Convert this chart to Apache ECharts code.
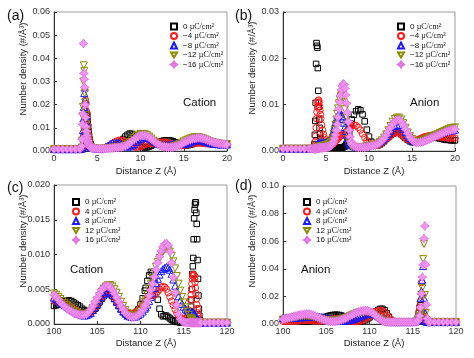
<!DOCTYPE html>
<html><head><meta charset="utf-8">
<script src="https://cdn.jsdelivr.net/npm/echarts@6/dist/echarts.min.js"></script>
<style>html,body{margin:0;padding:0;background:#fff}#c{width:474px;height:358px}</style>
</head><body><div id="c"></div>
<script>
// ---------- Panel (a): Cation, 0-20 A ----------
const A_X = [0,0.5,1,1.5,2,2.5,3,
 3.2,3.25,3.3,3.35,3.4,3.45,3.5,3.55,3.6,3.65,3.7,3.75,3.8,3.85,3.9,3.95,4,4.05,4.1,4.15,4.2,4.25,4.3,
 4.5,4.75,
 5,5.25,5.5,5.75, 6,6.25,6.5,6.75, 7,7.25,7.5,7.75, 8,8.25,8.5,8.75, 9,9.25,9.5,9.75,
 10,10.25,10.5,10.75, 11,11.25,11.5,11.75, 12,12.25,12.5,12.75, 13,13.25,13.5,13.75, 14,14.25,14.5,14.75,
 15,15.25,15.5,15.75, 16,16.25,16.5,16.75, 17,17.25,17.5,17.75, 18,18.25,18.5,18.75, 19,19.25,19.5,19.75,
 20];
const A_0 = [0.0008,0.0008,0.0008,0.0008,0.0008,0.0008,0.0008,
 0.0008,0.0008,0.001,0.0012,0.0015,0.002,0.003,0.0045,0.006,0.008,0.0105,0.014,0.016,0.0155,0.013,0.0105,0.0084,0.0066,0.005,0.004,0.0032,0.0026,0.0022,
 0.0016,0.0013,
 0.0011,0.001,0.001,0.001, 0.0011,0.0012,0.0014,0.0017, 0.0021,0.0027,0.0034,0.0042, 0.0052,0.0062,0.007,0.0075, 0.0074,0.0066,0.0052,0.0036,
 0.0024,0.0017,0.0015,0.0016, 0.0019,0.0023,0.0028,0.0033, 0.0037,0.004,0.0043,0.0045, 0.0046,0.0046,0.0045,0.0042, 0.0038,0.0034,0.003,0.0027,
 0.0025,0.0024,0.0025,0.0027, 0.003,0.0033,0.0036,0.0038, 0.0039,0.0039,0.0038,0.0037, 0.0036,0.0035,0.0034,0.0033, 0.0033,0.0032,0.0031,0.003,
 0.003];
const A_4 = [0.0008,0.0008,0.0008,0.0008,0.0008,0.0008,0.0008,
 0.0008,0.001,0.0015,0.0025,0.004,0.0068,0.01,0.0138,0.0183,0.022,0.0205,0.017,0.0159,0.0135,0.0112,0.009,0.0068,0.005,0.0038,0.003,0.0025,0.0021,0.0018,
 0.0014,0.0012,
 0.001,0.001,0.0011,0.0013, 0.0016,0.002,0.0026,0.0032, 0.0038,0.0043,0.0046,0.0047, 0.0045,0.004,0.0034,0.0028, 0.0022,0.0018,0.0016,0.0017,
 0.002,0.0024,0.0028,0.0031, 0.0033,0.0034,0.0034,0.0035, 0.0036,0.0037,0.0038,0.0038, 0.0037,0.0035,0.0032,0.0029, 0.0026,0.0024,0.0023,0.0023,
 0.0024,0.0026,0.0028,0.003, 0.0032,0.0033,0.0034,0.0034, 0.0034,0.0033,0.0032,0.0031, 0.003,0.003,0.0029,0.0029, 0.0028,0.0028,0.0027,0.0027,
 0.0026];
const A_8 = [0.0008,0.0008,0.0008,0.0008,0.0008,0.0008,0.0008,
 0.001,0.0015,0.0066,0.009,0.014,0.019,0.025,0.0275,0.022,0.0178,0.015,0.0124,0.01,0.008,0.0066,0.0052,0.0042,0.0034,0.0028,0.0024,0.0021,0.0018,0.0016,
 0.0013,0.0011,
 0.001,0.001,0.0011,0.0014, 0.0018,0.0024,0.003,0.0034, 0.0036,0.0036,0.0034,0.003, 0.0025,0.0021,0.0019,0.002, 0.0024,0.003,0.0038,0.0046,
 0.0053,0.0058,0.006,0.0059, 0.0055,0.005,0.0044,0.0038, 0.0033,0.0029,0.0027,0.0026, 0.0026,0.0027,0.0029,0.0031, 0.0032,0.0032,0.0031,0.003,
 0.003,0.0031,0.0034,0.0038, 0.0042,0.0045,0.0047,0.0047, 0.0046,0.0044,0.0041,0.0038, 0.0035,0.0033,0.0031,0.003, 0.0029,0.0028,0.0028,0.0028,
 0.0028];
const A_12 = [0.0008,0.0008,0.0008,0.0008,0.0008,0.0008,0.0008,
 0.0015,0.0045,0.015,0.019,0.03,0.037,0.0346,0.025,0.021,0.0155,0.0115,0.0085,0.0063,0.0048,0.0037,0.003,0.0025,0.0021,0.0018,0.0016,0.0015,0.0014,0.0013,
 0.0012,0.0011,
 0.001,0.001,0.001,0.001, 0.0011,0.0012,0.0013,0.0014, 0.0015,0.0016,0.0017,0.0018, 0.002,0.0024,0.003,0.0038, 0.0047,0.0056,0.0064,0.007,
 0.0073,0.0074,0.0072,0.0068, 0.0062,0.0054,0.0045,0.0036, 0.0028,0.0022,0.0019,0.0017, 0.0016,0.0016,0.0017,0.0019, 0.0022,0.0026,0.0031,0.0036,
 0.0041,0.0046,0.005,0.0054, 0.0057,0.0059,0.006,0.0059, 0.0057,0.0054,0.005,0.0046, 0.0042,0.0039,0.0036,0.0034, 0.0032,0.0031,0.003,0.003,
 0.003];
const A_16 = [0.0008,0.0008,0.0008,0.0008,0.0008,0.0008,0.0008,
 0.002,0.005,0.0115,0.016,0.0464,0.0335,0.031,0.0275,0.02,0.0145,0.0105,0.0085,0.0068,0.0055,0.0045,0.0037,0.0031,0.0026,0.0022,0.0019,0.0017,0.0015,0.0014,
 0.0012,0.0011,
 0.001,0.001,0.001,0.001, 0.001,0.0011,0.0012,0.0013, 0.0014,0.0015,0.0016,0.0017, 0.0019,0.0022,0.0027,0.0034, 0.0042,0.005,0.0057,0.0062,
 0.0066,0.0068,0.0067,0.0064, 0.0059,0.0052,0.0044,0.0036, 0.0029,0.0024,0.002,0.0018, 0.0017,0.0016,0.0016,0.0017, 0.0019,0.0022,0.0026,0.0031,
 0.0036,0.0041,0.0045,0.0049, 0.0052,0.0054,0.0056,0.0057, 0.0056,0.0054,0.0051,0.0047, 0.0043,0.004,0.0037,0.0035, 0.0033,0.0031,0.003,0.0029,
 0.0028];

// ---------- Panel (b): Anion, 0-20 A ----------
const B_X = [0,0.5,1,1.5,2,2.5,3,3.25,3.5,
 3.6,3.65,3.7,3.75,3.8,3.85,3.9,3.95,4,4.05,4.1,4.15,4.2,4.25,4.3,4.35,4.4,
 4.5,4.6,4.7,4.8,4.9,
 5,5.1,5.2,5.3,5.4,5.5,5.6,5.7,5.8,5.9,
 6,6.1,6.2,6.3,6.4,6.5,6.6,6.7,6.8,6.9,
 7,7.1,7.2,7.3,7.4,7.5,7.6,7.7,7.8,7.9,
 8,
 8.25,8.5,8.75,
 9,9.25,9.5,9.75, 10,10.25,10.5,10.75, 11,11.25,11.5,11.75, 12,12.25,12.5,12.75, 13,13.25,13.5,13.75, 14,14.25,14.5,14.75,
 15,15.25,15.5,15.75, 16,16.25,16.5,16.75, 17,17.25,17.5,17.75, 18,18.25,18.5,18.75, 19,19.25,19.5,19.75,
 20];
const B_0 = [0.0005,0.0005,0.0005,0.0005,0.0005,0.0005,0.0005,0.0005,0.0005,
 0.0008,0.0015,0.0035,0.0065,0.0104,0.0188,0.0233,0.0227,0.0223,0.0179,0.013,0.0095,0.0068,0.005,0.0037,0.0028,0.0022,
 0.0015,0.0012,0.001,0.0009,0.0008,
 0.0008,0.0007,0.0007,0.0007,0.0007,0.0007,0.0007,0.0007,0.0007,0.0007,
 0.0007,0.0007,0.0007,0.0007,0.0007,0.0007,0.0007,0.0007,0.0007,0.0008,
 0.0008,0.0009,0.001,0.0012,0.0016,0.0022,0.003,0.0039,0.0049,0.0059,
 0.0068,
 0.0078,0.0086,0.009,
 0.0088,0.0079,0.0064,0.0046, 0.0031,0.002,0.0014,0.0012, 0.0012,0.0014,0.0017,0.0021, 0.0026,0.003,0.0034,0.0037, 0.0039,0.004,0.0039,0.0036, 0.0032,0.0028,0.0024,0.0021,
 0.0019,0.0019,0.002,0.0022, 0.0024,0.0026,0.0028,0.0029, 0.003,0.003,0.003,0.0029, 0.0028,0.0027,0.0026,0.0025, 0.0024,0.0024,0.0023,0.0023,
 0.0023];
const B_4 = [0.0005,0.0005,0.0005,0.0005,0.0005,0.0005,0.0005,0.0005,0.0005,
 0.0006,0.0008,0.0012,0.002,0.0032,0.005,0.007,0.0084,0.0095,0.0104,0.0108,0.011,0.0105,0.0096,0.0088,0.0079,0.007,
 0.0056,0.0045,0.0036,0.0029,0.0024,
 0.002,0.0017,0.0015,0.0014,0.0013,0.0013,0.0013,0.0014,0.0015,0.0017,
 0.0019,0.0021,0.0023,0.0025,0.0027,0.0029,0.0031,0.0033,0.0034,0.0035,
 0.0036,0.0037,0.0038,0.004,0.0042,0.0044,0.0047,0.005,0.0052,0.0054,
 0.0055,
 0.0056,0.0055,0.0051,
 0.0045,0.0037,0.0029,0.0022, 0.0017,0.0014,0.0012,0.0012, 0.0013,0.0015,0.0018,0.0022, 0.0026,0.003,0.0034,0.0037, 0.0039,0.004,0.0039,0.0036, 0.0032,0.0028,0.0025,0.0023,
 0.0022,0.0022,0.0023,0.0025, 0.0027,0.0029,0.0031,0.0032, 0.0033,0.0033,0.0033,0.0032, 0.0031,0.003,0.003,0.0029, 0.0029,0.0028,0.0028,0.0028,
 0.0028];
const B_8 = [0.0005,0.0005,0.0005,0.0005,0.0005,0.0005,0.0005,0.0005,0.0005,
 0.0006,0.0007,0.0008,0.0009,0.001,0.0011,0.0012,0.0013,0.0014,0.0015,0.0016,0.0016,0.0017,0.0017,0.0017,0.0017,0.0017,
 0.0017,0.0017,0.0017,0.0017,0.0018,
 0.0018,0.0019,0.002,0.0021,0.0023,0.0026,0.003,0.0035,0.0041,0.0048,
 0.0055,0.0062,0.0068,0.0073,0.0077,0.008,0.0081,0.0081,0.0079,0.0075,
 0.0069,0.0061,0.0052,0.0043,0.0035,0.0028,0.0022,0.0018,0.0015,0.0013,
 0.0012,
 0.001,0.0009,0.0009,
 0.0009,0.001,0.0011,0.0012, 0.0013,0.0014,0.0015,0.0016, 0.0018,0.002,0.0023,0.0027, 0.0032,0.0038,0.0044,0.005, 0.0054,0.0056,0.0056,0.0053, 0.0048,0.0041,0.0034,0.0028,
 0.0024,0.0021,0.002,0.002, 0.0021,0.0023,0.0025,0.0027, 0.0029,0.0031,0.0033,0.0035, 0.0037,0.0038,0.004,0.0041, 0.0042,0.0043,0.0044,0.0045,
 0.0046];
const B_12 = [0.0005,0.0005,0.0005,0.0005,0.0005,0.0005,0.0005,0.0005,0.0005,
 0.0005,0.0005,0.0006,0.0006,0.0006,0.0007,0.0007,0.0007,0.0008,0.0008,0.0008,0.0009,0.0009,0.0009,0.001,0.001,0.001,
 0.001,0.0011,0.0011,0.0012,0.0012,
 0.0013,0.0013,0.0014,0.0015,0.0016,0.0018,0.002,0.0024,0.0029,0.0036,
 0.0045,0.0056,0.0068,0.008,0.0092,0.0103,0.0112,0.0118,0.0121,0.012,
 0.0115,0.0105,0.009,0.0072,0.0054,0.0039,0.0027,0.0019,0.0014,0.0011,
 0.001,
 0.0009,0.0008,0.0008,
 0.0008,0.0008,0.0009,0.001, 0.0011,0.0012,0.0013,0.0014, 0.0016,0.0019,0.0023,0.0029, 0.0036,0.0045,0.0054,0.0063, 0.0069,0.0072,0.0072,0.0068, 0.006,0.005,0.004,0.0032,
 0.0026,0.0022,0.002,0.002, 0.0021,0.0023,0.0025,0.0027, 0.0029,0.0031,0.0033,0.0035, 0.0037,0.0039,0.0041,0.0043, 0.0045,0.0047,0.0049,0.005,
 0.0051];
const B_16 = [0.0005,0.0005,0.0005,0.0005,0.0005,0.0005,0.0005,0.0005,0.0005,
 0.0005,0.0005,0.0005,0.0005,0.0005,0.0005,0.0006,0.0006,0.0006,0.0006,0.0006,0.0006,0.0006,0.0007,0.0007,0.0007,0.0007,
 0.0007,0.0007,0.0007,0.0008,0.0008,
 0.0008,0.0008,0.0009,0.0009,0.001,0.0011,0.0012,0.0014,0.0017,0.0021,
 0.0027,0.0035,0.0045,0.0058,0.0073,0.009,0.0106,0.012,0.0132,0.014,
 0.0145,0.0143,0.0135,0.0121,0.0103,0.0083,0.0063,0.0045,0.0031,0.0021,
 0.0015,
 0.0011,0.0009,0.0008,
 0.0008,0.0008,0.0008,0.0009, 0.001,0.0011,0.0012,0.0013, 0.0015,0.0018,0.0022,0.0027, 0.0034,0.0042,0.005,0.0058, 0.0064,0.0067,0.0067,0.0063, 0.0056,0.0047,0.0038,0.003,
 0.0024,0.002,0.0018,0.0018, 0.0019,0.002,0.0022,0.0024, 0.0026,0.0028,0.003,0.0032, 0.0034,0.0036,0.0038,0.004, 0.0042,0.0043,0.0045,0.0046,
 0.0047];

// ---------- Panel (c): Cation, 100-120 A ----------
const C_X = [100,100.25,100.5,100.75, 101,101.25,101.5,101.75, 102,102.25,102.5,102.75, 103,103.25,103.5,103.75, 104,104.25,104.5,104.75,
 105,105.25,105.5,105.75, 106,106.25,106.5,106.75, 107,107.25,107.5,107.75, 108,108.25,108.5,108.75, 109,109.25,109.5,109.75,
 110,110.25,110.5,
 110.6,110.8,111,111.2,111.4,111.6,111.8,112,112.2,112.4,112.6,112.8,113,113.2,113.4,113.6,113.8,114,114.2,114.4,114.6,114.8,115,115.2,115.4,115.6,115.8,
 115.85,115.9,115.95,116,116.05,116.1,116.15,116.2,116.25,116.3,116.35,116.4,116.45,116.5,116.55,116.6,116.65,116.7,116.75,116.8,116.85,116.9,
 117,117.5,118,118.5,119,119.5,120];
const C_0 = [0.0026,0.0027,0.0028,0.003, 0.0031,0.0033,0.0034,0.0034, 0.0033,0.0031,0.0029,0.0027, 0.0025,0.0022,0.002,0.0018, 0.0017,0.0017,0.0019,0.0022,
 0.0026,0.0031,0.0036,0.004, 0.0043,0.0044,0.0043,0.004, 0.0036,0.0031,0.0026,0.0021, 0.0017,0.0014,0.0012,0.0011, 0.0011,0.0013,0.0016,0.0021,
 0.0028,0.0037,0.0048,
 0.0052,0.0062,0.007,0.0075,0.0073,0.0064,0.005,0.0035,0.0022,0.0014,0.0011,0.0012,0.0012,0.001,0.0008,0.0006,0.0005,0.0004,0.0003,0.0003,0.0002,0.0002,0.0002,0.0003,0.0005,0.0009,0.0018,
 0.0025,0.0035,0.005,0.0072,0.0083,0.0095,0.0122,0.0152,0.0164,0.0172,0.0175,0.0175,0.016,0.0144,0.0122,0.0092,0.0065,0.0041,0.0022,0.0012,0.0006,0.0003,
 0.0002,0.0002,0.0002,0.0002,0.0002,0.0002,0.0002];
const C_4 = [0.0034,0.0033,0.0032,0.0031, 0.003,0.0029,0.0028,0.0026, 0.0024,0.0022,0.002,0.0018, 0.0016,0.0015,0.0014,0.0014, 0.0015,0.0017,0.002,0.0024,
 0.0029,0.0034,0.0039,0.0043, 0.0046,0.0047,0.0046,0.0043, 0.0039,0.0034,0.0029,0.0025, 0.0021,0.0018,0.0016,0.0015, 0.0015,0.0016,0.0018,0.002,
 0.0023,0.0027,0.0031,
 0.0033,0.0037,0.004,0.0041,0.0041,0.0042,0.0044,0.0047,0.005,0.0053,0.0054,0.0053,0.005,0.0045,0.0039,0.0033,0.0027,0.0021,0.0016,0.0012,0.0009,0.0007,0.0006,0.0008,0.0012,0.002,0.0035,
 0.0042,0.005,0.0058,0.0065,0.0069,0.0071,0.0071,0.007,0.0066,0.006,0.0052,0.0044,0.0036,0.0028,0.0022,0.0016,0.0011,0.0008,0.0005,0.0004,0.0003,0.0002,
 0.0002,0.0002,0.0002,0.0002,0.0002,0.0002,0.0002];
const C_8 = [0.0038,0.0036,0.0034,0.0031, 0.0029,0.0027,0.0025,0.0023, 0.0021,0.0019,0.0017,0.0015, 0.0014,0.0013,0.0012,0.0013, 0.0014,0.0016,0.002,0.0024,
 0.0029,0.0034,0.0039,0.0043, 0.0046,0.0047,0.0045,0.0042, 0.0037,0.0032,0.0027,0.0022, 0.0018,0.0015,0.0012,0.0011, 0.001,0.001,0.0011,0.0013,
 0.0015,0.0018,0.0022,
 0.0024,0.0028,0.0033,0.0039,0.0045,0.0052,0.0059,0.0065,0.0071,0.0076,0.0079,0.0081,0.0082,0.0081,0.0078,0.0072,0.0064,0.0055,0.0047,0.004,0.0034,0.0029,0.0025,0.0022,0.002,0.0018,0.0017,
 0.0017,0.0017,0.0017,0.0017,0.0016,0.0016,0.0015,0.0015,0.0014,0.0013,0.0012,0.0011,0.001,0.0009,0.0008,0.0007,0.0006,0.0005,0.0004,0.0003,0.0003,0.0002,
 0.0002,0.0002,0.0002,0.0002,0.0002,0.0002,0.0002];
const C_12 = [0.0044,0.0042,0.0039,0.0036, 0.0033,0.003,0.0027,0.0024, 0.0021,0.0019,0.0017,0.0015, 0.0014,0.0013,0.0013,0.0014, 0.0016,0.0019,0.0023,0.0028,
 0.0034,0.004,0.0046,0.0051, 0.0054,0.0056,0.0056,0.0054, 0.005,0.0045,0.0039,0.0032, 0.0026,0.002,0.0016,0.0013, 0.0011,0.0011,0.0012,0.0015,
 0.0019,0.0025,0.0032,
 0.0035,0.0042,0.005,0.0058,0.0066,0.0074,0.0082,0.0089,0.0095,0.01,0.0104,0.0107,0.0108,0.0107,0.0104,0.0098,0.009,0.008,0.0069,0.0058,0.0048,0.0039,0.0031,0.0024,0.0018,0.0013,0.0009,
 0.0008,0.0007,0.0006,0.0005,0.0005,0.0004,0.0004,0.0003,0.0003,0.0003,0.0002,0.0002,0.0002,0.0002,0.0002,0.0002,0.0002,0.0002,0.0002,0.0002,0.0002,0.0002,
 0.0002,0.0002,0.0002,0.0002,0.0002,0.0002,0.0002];
const C_16 = [0.0042,0.0039,0.0035,0.0031, 0.0028,0.0025,0.0022,0.002, 0.0018,0.0016,0.0015,0.0014, 0.0013,0.0013,0.0013,0.0014, 0.0017,0.0021,0.0026,0.0032,
 0.0038,0.0044,0.0049,0.0053, 0.0055,0.0055,0.0053,0.0049, 0.0044,0.0038,0.0032,0.0026, 0.0021,0.0016,0.0013,0.0011, 0.001,0.001,0.0011,0.0013,
 0.0016,0.002,0.0025,
 0.0028,0.0034,0.0041,0.0049,0.0058,0.0068,0.0078,0.0088,0.0097,0.0105,0.0111,0.0115,0.0116,0.0113,0.0104,0.0088,0.0067,0.0045,0.0027,0.0014,0.0007,0.0004,0.0003,0.0002,0.0002,0.0002,0.0002,
 0.0002,0.0002,0.0002,0.0002,0.0002,0.0002,0.0002,0.0002,0.0002,0.0002,0.0002,0.0002,0.0002,0.0002,0.0002,0.0002,0.0002,0.0002,0.0002,0.0002,0.0002,0.0002,
 0.0002,0.0002,0.0002,0.0002,0.0002,0.0002,0.0002];

// ---------- Panel (d): Anion, 100-120 A ----------
const D_X = [100,100.25,100.5,100.75, 101,101.25,101.5,101.75, 102,102.25,102.5,102.75, 103,103.25,103.5,103.75, 104,104.25,104.5,104.75,
 105,105.25,105.5,105.75, 106,106.25,106.5,106.75, 107,107.25,107.5,107.75, 108,108.25,108.5,108.75, 109,109.25,109.5,109.75,
 110,110.25,110.5,110.75, 111,111.25,111.5,111.75, 112,112.25,112.5,112.75, 113,113.25,113.5,113.75, 114,114.25,114.5,114.75,
 115,115.25,115.5,
 115.6,115.7,115.8,115.9,116,116.1,116.2,116.3,116.4,116.5,116.6,116.7,116.8,
 117,117.5,118,118.5,119,119.5,120];
const D_0 = [0.0035,0.0034,0.0033,0.0032, 0.003,0.0028,0.0026,0.0024, 0.0022,0.002,0.0019,0.0019, 0.002,0.0022,0.0025,0.0029, 0.0033,0.0038,0.0043,0.0048,
 0.0053,0.0058,0.0062,0.0065, 0.0067,0.0067,0.0065,0.0061, 0.0055,0.0048,0.004,0.0033, 0.0027,0.0022,0.0019,0.0018, 0.0019,0.0022,0.0028,0.0037,
 0.0048,0.0061,0.0076,0.009, 0.0102,0.011,0.011,0.01, 0.0078,0.0052,0.003,0.0018, 0.0014,0.0013,0.0013,0.0013, 0.0013,0.0013,0.0013,0.0013,
 0.0014,0.0018,0.0028,
 0.0045,0.008,0.012,0.0135,0.009,0.005,0.003,0.002,0.0016,0.0014,0.0014,0.0014,0.0014,
 0.0014,0.0014,0.0014,0.0014,0.0014,0.0014,0.0014];
const D_4 = [0.002,0.002,0.002,0.002, 0.002,0.0021,0.0022,0.0023, 0.0024,0.0025,0.0026,0.0026, 0.0026,0.0025,0.0024,0.0023, 0.0022,0.0022,0.0023,0.0025,
 0.0028,0.0031,0.0034,0.0036, 0.0037,0.0037,0.0036,0.0034, 0.0031,0.0028,0.0025,0.0022, 0.002,0.0019,0.0019,0.002, 0.0023,0.0028,0.0035,0.0044,
 0.0055,0.0067,0.0079,0.0089, 0.0096,0.0099,0.0096,0.0085, 0.0066,0.0045,0.0028,0.0018, 0.0014,0.0013,0.0013,0.0013, 0.0013,0.0013,0.0013,0.0013,
 0.0013,0.0016,0.0025,
 0.004,0.008,0.012,0.016,0.03,0.021,0.009,0.004,0.002,0.0015,0.0014,0.0014,0.0014,
 0.0014,0.0014,0.0014,0.0014,0.0014,0.0014,0.0014];
const D_8 = [0.0043,0.0043,0.0043,0.0044, 0.0044,0.0045,0.0046,0.0047, 0.0048,0.0049,0.005,0.0051, 0.0052,0.0053,0.0054,0.0054, 0.0054,0.0053,0.0051,0.0048,
 0.0044,0.004,0.0036,0.0032, 0.0029,0.0026,0.0024,0.0023, 0.0023,0.0024,0.0026,0.0029, 0.0033,0.0038,0.0044,0.005, 0.0057,0.0064,0.007,0.0074,
 0.0076,0.0075,0.0071,0.0064, 0.0055,0.0045,0.0035,0.0026, 0.002,0.0016,0.0014,0.0014, 0.0014,0.0014,0.0014,0.0014, 0.0014,0.0014,0.0014,0.0014,
 0.0014,0.0016,0.0022,
 0.003,0.005,0.008,0.019,0.024,0.032,0.042,0.019,0.008,0.003,0.0016,0.0014,0.0014,
 0.0014,0.0014,0.0014,0.0014,0.0014,0.0014,0.0014];
const D_12 = [0.0032,0.0034,0.0037,0.004, 0.0043,0.0046,0.0049,0.0052, 0.0054,0.0056,0.0057,0.0057, 0.0056,0.0054,0.0051,0.0047, 0.0043,0.0038,0.0034,0.003,
 0.0027,0.0025,0.0024,0.0024, 0.0025,0.0027,0.003,0.0034, 0.0039,0.0045,0.0052,0.0059, 0.0066,0.0072,0.0078,0.0083, 0.0086,0.0088,0.0088,0.0086,
 0.0082,0.0075,0.0065,0.0053, 0.0041,0.003,0.0022,0.0017, 0.0015,0.0014,0.0014,0.0014, 0.0014,0.0014,0.0014,0.0014, 0.0014,0.0014,0.0014,0.0014,
 0.0014,0.0016,0.002,
 0.0025,0.004,0.006,0.009,0.021,0.026,0.047,0.058,0.021,0.008,0.003,0.0016,0.0014,
 0.0014,0.0014,0.0014,0.0014,0.0014,0.0014,0.0014];
const D_16 = [0.0035,0.0038,0.0042,0.0046, 0.005,0.0054,0.0058,0.0062, 0.0066,0.0069,0.0071,0.0072, 0.0071,0.0068,0.0063,0.0057, 0.005,0.0043,0.0036,0.003,
 0.0025,0.0021,0.0019,0.0018, 0.0019,0.0021,0.0025,0.003, 0.0036,0.0043,0.0051,0.0059, 0.0067,0.0075,0.0082,0.0088, 0.0093,0.0096,0.0097,0.0096,
 0.0092,0.0085,0.0074,0.006, 0.0045,0.0032,0.0022,0.0017, 0.0015,0.0014,0.0014,0.0014, 0.0014,0.0014,0.0014,0.0014, 0.0014,0.0014,0.0014,0.0014,
 0.0014,0.0015,0.0018,
 0.0022,0.0035,0.006,0.012,0.022,0.034,0.043,0.062,0.071,0.043,0.014,0.004,0.0016,
 0.0014,0.0014,0.0014,0.0014,0.0014,0.0014,0.0014];

// ---------- labels ----------
const NEG_LABELS = ['0', '\u22124', '\u22128', '\u221212', '\u221216'];
const POS_LABELS = ['0', '4', '8', '12', '16'];
const UNIT = '\u00b5C/cm\u00b2';
const Y_NAME = 'Number density (#/\u00c5\u00b3)';
const X_NAME = 'Distance Z (\u00c5)';
const PANEL_TAGS = ['(a)', '(b)', '(c)', '(d)'];
const ION_TAGS = ['Cation', 'Anion', 'Cation', 'Anion'];
const X_TICKS = [[0, 20, 5], [0, 20, 5], [100, 120, 5], [100, 120, 5]];
const Y_TICKS = [[0, 0.06, 0.01, 2], [0, 0.03, 0.01, 2], [0, 0.02, 0.005, 3], [0, 0.1, 0.02, 2]];

// ---------- layout / style ----------
const SANS = "'Liberation Sans', Arial, sans-serif";
const SERIF = "'Liberation Serif', 'Times New Roman', serif";
const GRIDS = [
  {left: 54, top: 12, width: 173, height: 139},
  {left: 283, top: 12, width: 172, height: 139},
  {left: 54, top: 185, width: 173, height: 139},
  {left: 283, top: 186, width: 173, height: 138}
];
const INV_TRI = 'path://M0,0L10,0L5,8.66Z';
const STAR = 'path://M5,0L7,3L10,5L7,7L5,10L3,7L0,5L3,3Z';
const STYLES = [
  {symbol: 'rect', size: 5.5, color: 'rgba(0,0,0,0)', border: '#000000', bw: 1},
  {symbol: 'circle', size: 6.5, color: 'rgba(0,0,0,0)', border: '#ff1a1a', bw: 1},
  {symbol: 'triangle', size: 7, color: 'rgba(0,0,0,0)', border: '#1a1aff', bw: 1},
  {symbol: INV_TRI, size: 7, color: 'rgba(0,0,0,0)', border: '#8a8a00', bw: 1},
  {symbol: STAR, size: 9, color: '#f294f2', border: '#e070e0', bw: 0.8}
];

const PANELS = [
  {xs: A_X, ys: [A_0, A_4, A_8, A_12, A_16], labels: NEG_LABELS, key: 'n'},
  {xs: B_X, ys: [B_0, B_4, B_8, B_12, B_16], labels: NEG_LABELS, key: 'n'},
  {xs: C_X, ys: [C_0, C_4, C_8, C_12, C_16], labels: POS_LABELS, key: 'p'},
  {xs: D_X, ys: [D_0, D_4, D_8, D_12, D_16], labels: POS_LABELS, key: 'p'}
];

function zip(xs, ys) {
  const out = [];
  for (let i = 0; i < xs.length; i++) out.push([xs[i], ys[i]]);
  return out;
}

const grids = [], xAxes = [], yAxes = [], series = [], legends = [], graphics = [];
const labelOf = {};
PANELS.forEach((p, pi) => {
  grids.push(Object.assign({show: true, borderColor: '#9a9a9a', borderWidth: 1, backgroundColor: 'transparent'}, GRIDS[pi]));
  const xt = X_TICKS[pi], yt = Y_TICKS[pi];
  xAxes.push({
    type: 'value', gridIndex: pi, min: xt[0], max: xt[1], interval: xt[2],
    axisLine: {show: true, onZero: false, lineStyle: {color: '#333', width: 1}},
    axisTick: {show: true, inside: true, length: 3, lineStyle: {color: '#333'}},
    axisLabel: {fontSize: 9, fontFamily: SANS, color: '#333', margin: 3, showMinLabel: true, showMaxLabel: true},
    splitLine: {show: false}
  });
  yAxes.push({
    type: 'value', gridIndex: pi, min: yt[0], max: yt[1], interval: yt[2],
    axisLine: {show: true, onZero: false, lineStyle: {color: '#333', width: 1}},
    axisTick: {show: true, inside: true, length: 3, lineStyle: {color: '#333'}},
    axisLabel: {fontSize: 9, fontFamily: SANS, color: '#333', margin: 4, showMinLabel: true, showMaxLabel: true,
      formatter: v => v.toFixed(yt[3])},
    splitLine: {show: false}
  });
  const names = [];
  p.ys.forEach((ys, si) => {
    const st = STYLES[si];
    const name = p.key + si;
    labelOf[name] = p.labels[si];
    names.push(name);
    series.push({
      type: 'scatter', name: name, xAxisIndex: pi, yAxisIndex: pi,
      data: zip(p.xs, ys), symbol: st.symbol, symbolSize: st.size,
      itemStyle: {color: st.color, borderColor: st.border, borderWidth: st.bw, opacity: 1},
      emphasis: {disabled: true}, silent: true, animation: false, clip: true
    });
  });
  const legendPos = [[170, 22.5], [397, 22.5], [72, 198], [303, 198]][pi];
  legends.push({
    data: names, orient: 'vertical', left: legendPos[0], top: legendPos[1],
    itemWidth: 6, itemHeight: 6, itemGap: 1.5, selectedMode: false, padding: 0,
    formatter: n => '{n|' + labelOf[n] + '} {u|' + UNIT + '}',
    textStyle: {fontSize: 8, lineHeight: 8, fontFamily: SANS, color: '#111', padding: [0, 0, 0, 1], rich: {
      n: {fontFamily: SANS, fontSize: 8, color: '#111', lineHeight: 8},
      u: {fontFamily: SERIF, fontSize: 8, color: '#111', lineHeight: 8}
    }}
  });
});

const TAG_POS = [[7, 16], [235, 16], [7, 188], [235, 186]];
const ION_POS = [[183, 103], [410, 103], [70, 270], [301, 270]];
const YN_POS = [[23, 69], [252, 68], [23, 241], [252, 241]];
const XN_POS = [[146, 171], [374, 171], [146, 343], [374, 343]];
for (let i = 0; i < 4; i++) {
  graphics.push({type: 'text', x: TAG_POS[i][0], y: TAG_POS[i][1], silent: true,
    style: {text: PANEL_TAGS[i], fontSize: 14, fontFamily: SANS, fill: '#111', align: 'left', verticalAlign: 'middle'}});
  graphics.push({type: 'text', x: ION_POS[i][0], y: ION_POS[i][1], silent: true,
    style: {text: ION_TAGS[i], fontSize: 11.5, fontFamily: SANS, fill: '#111', align: 'left', verticalAlign: 'middle'}});
  graphics.push({type: 'text', x: YN_POS[i][0], y: YN_POS[i][1], rotation: Math.PI / 2, silent: true,
    style: {text: Y_NAME, fontSize: 9.5, fontFamily: SANS, fill: '#222', align: 'center', verticalAlign: 'middle'}});
  graphics.push({type: 'text', x: XN_POS[i][0], y: XN_POS[i][1], silent: true,
    style: {text: X_NAME, fontSize: 9.5, fontFamily: SANS, fill: '#222', align: 'center', verticalAlign: 'middle'}});
}

const chart = echarts.init(document.getElementById('c'), null, {renderer: 'canvas', width: 474, height: 358});
chart.setOption({
  animation: false,
  backgroundColor: '#ffffff',
  grid: grids, xAxis: xAxes, yAxis: yAxes, series: series, legend: legends,
  graphic: {elements: graphics}
});
</script>
</body></html>
